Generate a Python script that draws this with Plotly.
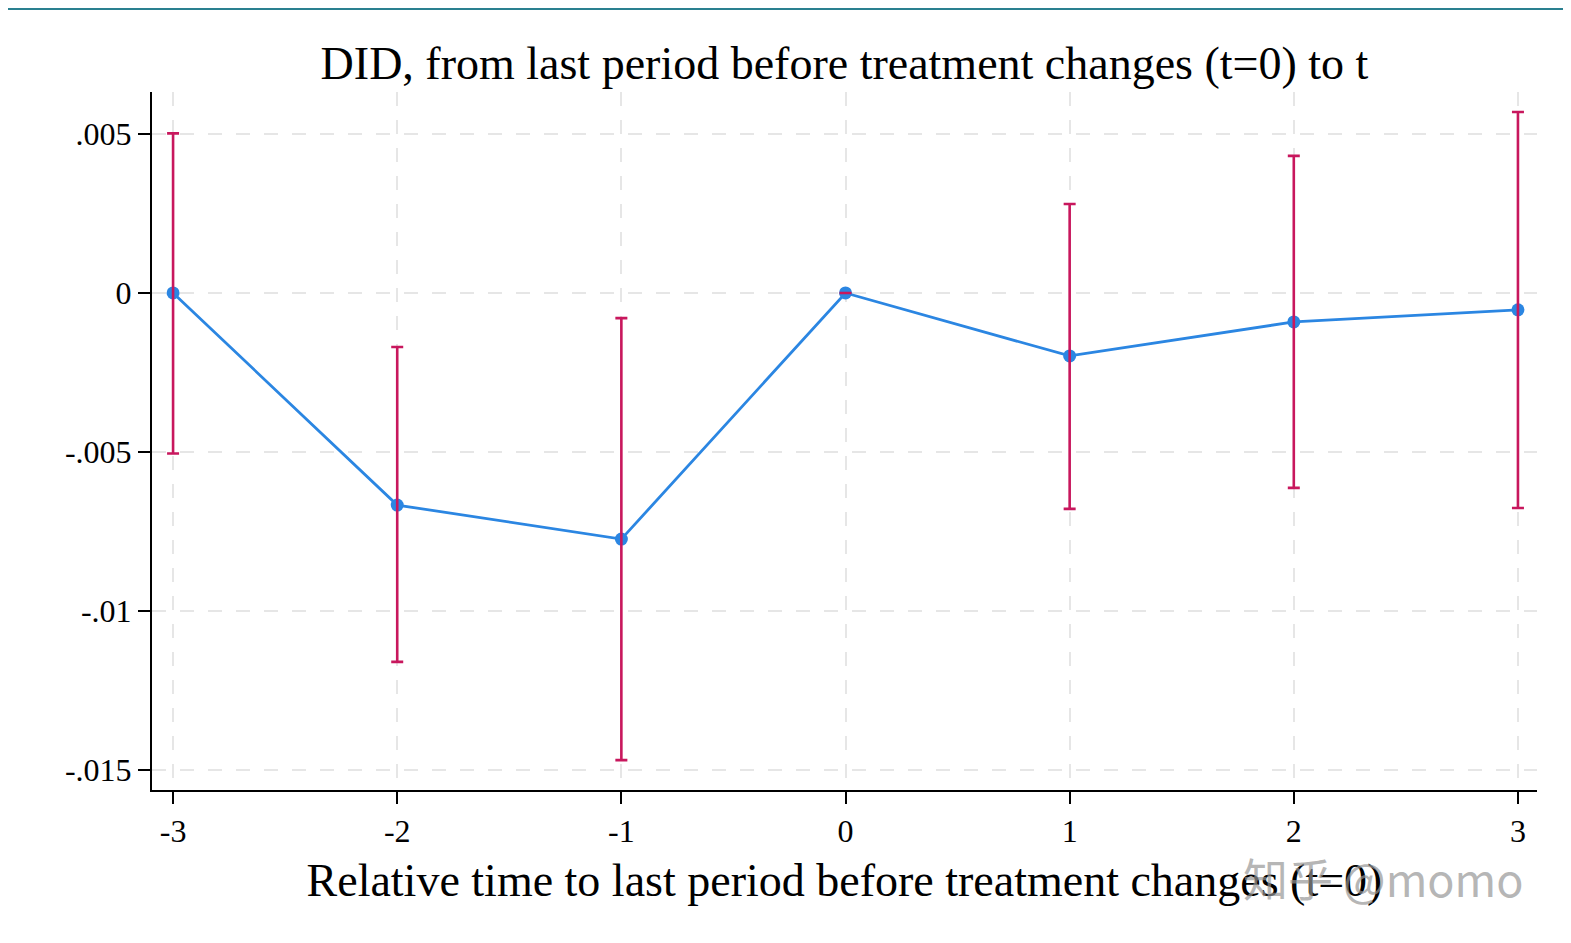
import plotly.graph_objects as go

# Data
rel_time = [-3, -2, -1, 0, 1, 2, 3]
estimate = [0.0, -0.00667, -0.00774, 0.0, -0.00198, -0.00091, -0.00053]
ci_upper = [0.00502, -0.00170, -0.00079, 0.0, 0.00280, 0.00431, 0.00569]
ci_lower = [-0.00505, -0.01160, -0.01469, 0.0, -0.00679, -0.00613, -0.00676]

x_tickvals = [-3, -2, -1, 0, 1, 2, 3]
x_ticktext = ["-3", "-2", "-1", "0", "1", "2", "3"]
y_tickvals = [0.005, 0.0, -0.005, -0.01, -0.015]
y_ticktext = [".005", "0", "-.005", "-.01", "-.015"]

title_text = "DID, from last period before treatment changes (t=0) to t"
xtitle_text = "Relative time to last period before treatment changes (t=0)"
watermark = "知乎 @momo"

err_plus = [u - e for u, e in zip(ci_upper, estimate)]
err_minus = [e - l for e, l in zip(estimate, ci_lower)]

# the page body has an 8px margin; compensate so the plot lands where it should
OFF = 8
W, H = 1571 - 2 * OFF, 943 - 2 * OFF
ML, MR, MT, MB = 152 - OFF, 34 - OFF, 92 - OFF, 153 - OFF
PW, PH = W - ML - MR, H - MT - MB

SERIF = "Liberation Serif, Times New Roman, serif"
BLUE = "#2b86e2"
RED = "#c8175d"

fig = go.Figure()

fig.add_trace(go.Scatter(
    x=rel_time, y=estimate, mode="lines+markers",
    line=dict(color=BLUE, width=2.8),
    marker=dict(color=BLUE, size=13),
    showlegend=False, hoverinfo="x+y",
))

fig.add_trace(go.Scatter(
    x=rel_time, y=estimate, mode="markers",
    marker=dict(color="rgba(0,0,0,0)", size=1),
    error_y=dict(type="data", symmetric=False, array=err_plus, arrayminus=err_minus,
                 color=RED, thickness=2.6, width=6),
    showlegend=False, hoverinfo="skip",
))

fig.update_layout(
    width=W, height=H,
    margin=dict(l=ML, r=MR, t=MT, b=MB, pad=0),
    paper_bgcolor="white", plot_bgcolor="white",
    font=dict(family=SERIF, color="black", size=32),
    title=dict(text=title_text, x=0.5, xref="paper", xanchor="center",
               y=1 - (63 - OFF) / H, yref="container", yanchor="middle",
               font=dict(family=SERIF, size=46, color="black")),
    xaxis=dict(
        range=[-3.094, 3.085], tickvals=x_tickvals, ticktext=x_ticktext,
        showgrid=True, gridcolor="#e6e6e6", gridwidth=2, griddash="14px,14px",
        zeroline=False, showline=True, linecolor="black", linewidth=2,
        ticks="outside", ticklen=12, tickwidth=2, tickcolor="black",
        tickfont=dict(family=SERIF, size=32),
        title=dict(text=xtitle_text, font=dict(family=SERIF, size=46), standoff=15),
    ),
    yaxis=dict(
        range=[-0.01563, 0.00632], tickvals=y_tickvals, ticktext=y_ticktext,
        showgrid=True, gridcolor="#e6e6e6", gridwidth=2, griddash="14px,14px",
        zeroline=False, showline=True, linecolor="black", linewidth=2,
        ticks="outside", ticklen=12, tickwidth=2, tickcolor="black",
        tickfont=dict(family=SERIF, size=32),
    ),
    shapes=[dict(type="line", xref="paper", yref="paper",
                 x0=-ML / PW, x1=1 + MR / PW, y0=1 + (MT - 1) / PH, y1=1 + (MT - 1) / PH,
                 line=dict(color="#2a8090", width=2))],
    annotations=[dict(text=watermark, xref="paper", yref="paper",
                      x=(1383 - 152) / PW, y=-(877 - 790) / PH,
                      xanchor="center", yanchor="middle", showarrow=False,
                      font=dict(family="Noto Sans CJK SC, Noto Sans, sans-serif",
                                size=45, color="rgba(150,150,150,0.7)"))],
)

fig.write_html("out.html")
